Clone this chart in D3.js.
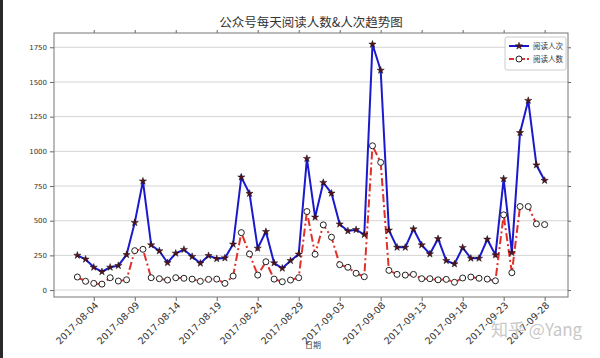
<!DOCTYPE html>
<html><head><meta charset="utf-8">
<script src="https://cdn.jsdelivr.net/npm/d3@7"></script>
<style>body{margin:0;background:#fff}svg{display:block}</style>
</head><body><svg id="c" width="600" height="358"></svg>
<script>
const startDate = "2017-08-02";
const views = [250,222,164,132,164,176,255,486,785,325,282,197,265,292,241,193,248,226,231,330,814,696,301,421,195,157,212,258,948,525,775,698,475,426,435,400,1772,1584,431,308,308,440,325,260,370,212,188,306,229,229,366,253,802,270,1134,1366,901,790];
const readers = [94,63,48,43,89,65,74,284,294,89,82,72,89,85,79,63,77,79,48,101,414,260,108,204,79,60,72,89,566,258,470,381,183,164,121,96,1040,920,142,113,108,113,82,82,74,77,56,87,94,85,79,67,542,125,602,602,477,472];
const xTickLabels = ["2017-08-04","2017-08-09","2017-08-14","2017-08-19","2017-08-24","2017-08-29","2017-09-03","2017-09-08","2017-09-13","2017-09-18","2017-09-23","2017-09-28"];
const yTicks = [0,250,500,750,1000,1250,1500,1750];
const seriesNames = ["阅读人次","阅读人数"];
const title = "公众号每天阅读人数&人次趋势图";
const xLabel = "日期";

const parse = d3.timeParse("%Y-%m-%d");
const day = 864e5;
const d0 = parse(startDate);
const dates = views.map((v,i)=> new Date(d0.getTime()+i*day));
const svg = d3.select("#c");
const L=54,R=568,T=33,B=297;
const pad = (dates.length-1)*0.05*day;
const x = d3.scaleTime().domain([new Date(dates[0].getTime()-pad), new Date(dates[dates.length-1].getTime()+pad)]).range([L,R]);
const y = d3.scaleLinear().domain([-50,1853]).range([B,T]);

svg.append("rect").attr("x",0).attr("y",0).attr("width",3).attr("height",358).attr("fill","#2a2a2a");

// grid
svg.append("g").selectAll("line").data(yTicks).join("line")
  .attr("x1",L).attr("x2",R).attr("y1",d=>y(d)).attr("y2",d=>y(d))
  .attr("stroke","#d4d4d4").attr("stroke-width",1);

// axes
const tickDates = xTickLabels.map(parse);
const fmt = d3.timeFormat("%Y-%m-%d");
const gx = svg.append("g").attr("transform",`translate(0,${B})`)
  .call(d3.axisBottom(x).tickValues(tickDates).tickFormat(fmt).tickSize(4).tickSizeOuter(0));
gx.select(".domain").remove();
gx.selectAll("line").attr("stroke","#666");
gx.selectAll("text").attr("font-family","DejaVu Sans").attr("font-size",9.5).attr("fill","#333")
  .attr("text-anchor","end").attr("transform","rotate(-45)").attr("dx","-0.3em").attr("dy","0.6em").attr("y",4).attr("x",0);
const gt = svg.append("g").attr("transform",`translate(0,${T})`)
  .call(d3.axisTop(x).tickValues(tickDates).tickFormat("").tickSize(3).tickSizeOuter(0));
gt.select(".domain").remove(); gt.selectAll("line").attr("stroke","#666");

const gy = svg.append("g").attr("transform",`translate(${L},0)`)
  .call(d3.axisLeft(y).tickValues(yTicks).tickFormat(d3.format("d")).tickSize(4).tickSizeOuter(0));
gy.select(".domain").remove();
gy.selectAll("line").attr("stroke","#666");
gy.selectAll("text").attr("font-family","DejaVu Sans").attr("font-size",7).attr("fill","#333");
const gr = svg.append("g").attr("transform",`translate(${R},0)`)
  .call(d3.axisRight(y).tickValues(yTicks).tickFormat("").tickSize(3).tickSizeOuter(0));
gr.select(".domain").remove(); gr.selectAll("line").attr("stroke","#666");

svg.append("rect").attr("x",L).attr("y",T).attr("width",R-L).attr("height",B-T)
  .attr("fill","none").attr("stroke","#777").attr("stroke-width",1);

// lines
const line = arr => d3.line().x((d,i)=>x(dates[i])).y(d=>y(d))(arr);
svg.append("path").attr("d",line(views)).attr("fill","none").attr("stroke","#1a1acc").attr("stroke-width",2);
svg.append("path").attr("d",line(readers)).attr("fill","none").attr("stroke","#e0302a")
  .attr("stroke-width",2).attr("stroke-dasharray","8,3,2,3");

const star = d3.symbol().type(d3.symbolStar).size(16);
svg.append("g").selectAll("path").data(views).join("path")
  .attr("d",star).attr("transform",(d,i)=>`translate(${x(dates[i])},${y(d)})`)
  .attr("fill","#5a1020").attr("stroke","#111").attr("stroke-width",0.5);
svg.append("g").selectAll("circle").data(readers).join("circle")
  .attr("cx",(d,i)=>x(dates[i])).attr("cy",d=>y(d)).attr("r",3)
  .attr("fill","#fff").attr("stroke","#222").attr("stroke-width",1);

// title & labels
svg.append("text").attr("x",311).attr("y",27).attr("text-anchor","middle")
  .attr("font-family","Noto Sans CJK SC").attr("font-size",12.5).attr("fill","#333").text(title);
svg.append("text").attr("x",313).attr("y",348).attr("text-anchor","middle")
  .attr("font-family","Noto Sans CJK SC").attr("font-size",8).attr("fill","#444").text(xLabel);

// legend
const lg = svg.append("g");
lg.append("rect").attr("x",505).attr("y",37).attr("width",61).attr("height",33)
  .attr("fill","#fff").attr("stroke","#ccc").attr("rx",2);
lg.append("line").attr("x1",509).attr("x2",529).attr("y1",46).attr("y2",46).attr("stroke","#1a1acc").attr("stroke-width",2);
lg.append("path").attr("d",star).attr("transform","translate(519,46)").attr("fill","#5a1020").attr("stroke","#111").attr("stroke-width",0.5);
lg.append("line").attr("x1",509).attr("x2",529).attr("y1",59).attr("y2",59).attr("stroke","#e0302a").attr("stroke-width",2).attr("stroke-dasharray","5,2,2,2");
lg.append("circle").attr("cx",519).attr("cy",59).attr("r",3).attr("fill","#fff").attr("stroke","#222");
lg.selectAll("text.l").data(seriesNames).join("text").attr("class","l")
  .attr("x",533).attr("y",(d,i)=>49+i*13).attr("font-family","Noto Sans CJK SC").attr("font-size",7.5).attr("fill","#333").text(d=>d);

// watermark
svg.append("text").attr("x",491).attr("y",336).attr("font-family","Noto Sans CJK SC").attr("font-size",17)
  .attr("fill","#c8c8c8").text("知乎 @Yang");
</script></body></html>
